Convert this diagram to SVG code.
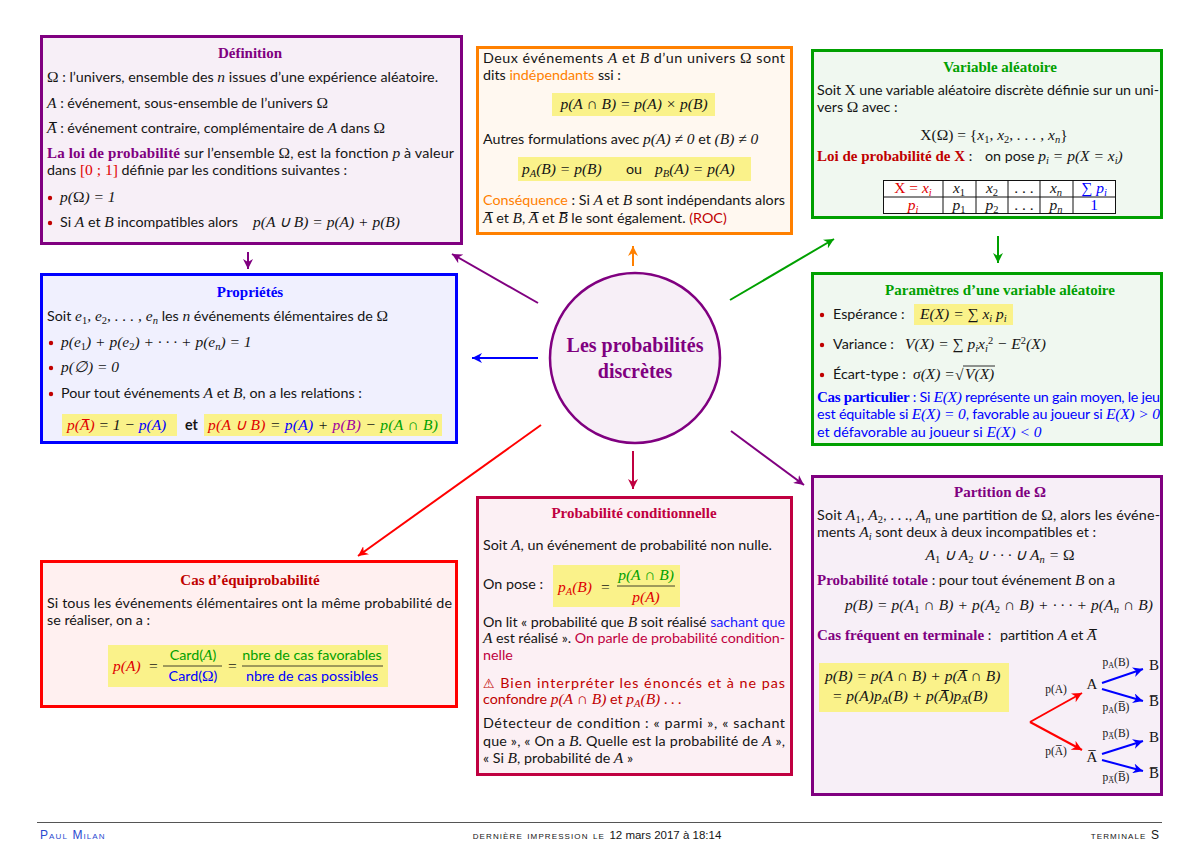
<svg xmlns="http://www.w3.org/2000/svg" width="1200" height="848" viewBox="0 0 1200 848">
<defs>
<style>
text{font-family:Lato,"Open Sans","Liberation Sans",sans-serif;font-size:14.3px;fill:#151515}
.m{font-family:"Liberation Serif",serif;font-style:italic;font-size:15.5px}
.r{font-family:"Liberation Serif",serif;font-style:normal;font-size:15.5px}
.sb{font-family:"Liberation Serif",serif;font-weight:bold;font-size:15px}
.h{font-family:"Liberation Serif",serif;font-weight:bold;font-size:15px;text-anchor:middle}
.c{text-anchor:middle}
.box{stroke-width:3}
.hl{fill:#faf28a}
.dot{fill:#c00000}
.s{font-size:10.5px}
.lab{font-family:"Liberation Serif",serif;font-size:11.5px}
.tn{font-family:"Liberation Serif",serif;font-size:15px}
.ft{font-family:"Liberation Sans",sans-serif;font-size:12px;font-variant:small-caps;letter-spacing:1.1px}
</style>
<marker id="mp" viewBox="0 0 10 10" refX="10" refY="5" markerWidth="5" markerHeight="5" orient="auto"><path d="M0,0 L10,5 L0,10 L3,5 z" fill="#800080"/></marker>
<marker id="mb" viewBox="0 0 10 10" refX="10" refY="5" markerWidth="5" markerHeight="5" orient="auto"><path d="M0,0 L10,5 L0,10 L3,5 z" fill="#0000ff"/></marker>
<marker id="mr" viewBox="0 0 10 10" refX="10" refY="5" markerWidth="5" markerHeight="5" orient="auto"><path d="M0,0 L10,5 L0,10 L3,5 z" fill="#ff0000"/></marker>
<marker id="mo" viewBox="0 0 10 10" refX="10" refY="5" markerWidth="5" markerHeight="5" orient="auto"><path d="M0,0 L10,5 L0,10 L3,5 z" fill="#ff8000"/></marker>
<marker id="mc" viewBox="0 0 10 10" refX="10" refY="5" markerWidth="5" markerHeight="5" orient="auto"><path d="M0,0 L10,5 L0,10 L3,5 z" fill="#c00040"/></marker>
<marker id="mg" viewBox="0 0 10 10" refX="10" refY="5" markerWidth="5" markerHeight="5" orient="auto"><path d="M0,0 L10,5 L0,10 L3,5 z" fill="#00a000"/></marker>
</defs>
<rect width="1200" height="848" fill="#ffffff"/>

<g id="connectors" fill="none" stroke-width="2">
<line x1="538" y1="303" x2="452" y2="254" stroke="#800080" marker-end="url(#mp)"/>
<line x1="538" y1="358" x2="472" y2="358" stroke="#0000ff" marker-end="url(#mb)"/>
<line x1="541" y1="425" x2="358" y2="556" stroke="#ff0000" marker-end="url(#mr)"/>
<line x1="633" y1="266" x2="633" y2="246" stroke="#ff8000" marker-end="url(#mo)"/>
<line x1="633" y1="451" x2="633" y2="489" stroke="#c00040" marker-end="url(#mc)"/>
<line x1="730" y1="300" x2="834" y2="239" stroke="#00a000" marker-end="url(#mg)"/>
<line x1="731" y1="431" x2="804" y2="485" stroke="#800080" marker-end="url(#mp)"/>
<line x1="248" y1="252" x2="248" y2="269" stroke="#800080" marker-end="url(#mp)"/>
<line x1="998" y1="236" x2="998" y2="263" stroke="#00a000" marker-end="url(#mg)"/>
</g>

<g id="centre">
<circle cx="635" cy="358" r="85" fill="#f7eff7" stroke="#800080" stroke-width="2.5"/>
<text class="c" x="635" y="352" style="font-family:'Liberation Serif',serif;font-size:20px;font-weight:bold;fill:#800080">Les probabilités</text>
<text class="c" x="635" y="378" style="font-family:'Liberation Serif',serif;font-size:20px;font-weight:bold;fill:#800080">discrètes</text>
</g>

<g id="definition">
<rect class="box" x="41.5" y="36.5" width="420" height="207" fill="#f7eff7" stroke="#800080"/>
<text class="h" x="250" y="58" style="fill:#800080">Définition</text>
<text x="47" y="82" textLength="391"><tspan class="r">Ω</tspan> : l’univers, ensemble des <tspan class="m">n</tspan> issues d’une expérience aléatoire.</text>
<text x="47" y="108"><tspan class="m">A</tspan> : événement, sous-ensemble de l’univers <tspan class="r">Ω</tspan></text>
<text x="47" y="133"><tspan class="m">A̅</tspan> : événement contraire, complémentaire de <tspan class="m">A</tspan> dans <tspan class="r">Ω</tspan></text>
<text x="47" y="158" textLength="407"><tspan class="sb" style="fill:#800080">La loi de probabilité</tspan> sur l’ensemble <tspan class="r">Ω</tspan>, est la fonction <tspan class="m">p</tspan> à valeur</text>
<text x="47" y="175">dans <tspan class="r" style="fill:#e00000">[0 ; 1]</tspan> définie par les conditions suivantes :</text>
<circle class="dot" cx="50" cy="198" r="2.2"/>
<text x="60" y="202" class="m">p(<tspan class="r">Ω</tspan>) = 1</text>
<circle class="dot" cx="50" cy="223" r="2.2"/>
<text x="60" y="227">Si <tspan class="m">A</tspan> et <tspan class="m">B</tspan> incompatibles alors</text>
<text x="253" y="227" class="m">p(A ∪ B) = p(A) + p(B)</text>
</g>

<g id="independance">
<rect class="box" x="477.5" y="47.5" width="314" height="186" fill="#fff8f0" stroke="#ff8000"/>
<text x="483" y="63" textLength="302">Deux événements <tspan class="m">A</tspan> et <tspan class="m">B</tspan> d’un univers <tspan class="r">Ω</tspan> sont</text>
<text x="483" y="80">dits <tspan style="fill:#ff8000">indépendants</tspan> ssi :</text>
<rect class="hl" x="552" y="93" width="163" height="23"/>
<text class="m c" x="634" y="109">p(A ∩ B) = p(A) × p(B)</text>
<text x="483" y="144">Autres formulations avec <tspan class="m">p(A) ≠ 0</tspan> et <tspan class="m">(B) ≠ 0</tspan></text>
<rect class="hl" x="518" y="157" width="233" height="24"/>
<text class="m" x="522" y="174">p<tspan class="s" baseline-shift="-3">A</tspan>(B) = p(B)</text>
<text x="626" y="174">ou</text>
<text class="m" x="655" y="174">p<tspan class="s" baseline-shift="-3">B</tspan>(A) = p(A)</text>
<text x="483" y="205" textLength="302"><tspan style="fill:#ff8000">Conséquence</tspan> : Si <tspan class="m">A</tspan> et <tspan class="m">B</tspan> sont indépendants alors</text>
<text x="483" y="223"><tspan class="m">A̅</tspan> et <tspan class="m">B</tspan>, <tspan class="m">A̅</tspan> et <tspan class="m">B̅</tspan> le sont également. <tspan style="fill:#c00000">(ROC)</tspan></text>
</g>

<g id="variable">
<rect class="box" x="812.5" y="50.5" width="349" height="167" fill="#f0f8f0" stroke="#00a000"/>
<text class="h" x="1000" y="72" style="fill:#00a000">Variable aléatoire</text>
<text x="817" y="95" textLength="342">Soit <tspan class="r">X</tspan> une variable aléatoire discrète définie sur un uni-</text>
<text x="817" y="112">vers <tspan class="r">Ω</tspan> avec :</text>
<text class="c" x="994" y="140"><tspan class="r">X(Ω) = {</tspan><tspan class="m">x</tspan><tspan class="r s" baseline-shift="-3">1</tspan><tspan class="m">, x</tspan><tspan class="r s" baseline-shift="-3">2</tspan><tspan class="m">, . . . , x</tspan><tspan class="m s" baseline-shift="-3">n</tspan><tspan class="r">}</tspan></text>
<text x="817" y="161"><tspan class="sb" style="fill:#c00000">Loi de probabilité de X</tspan> :</text>
<text x="985" y="161">on pose <tspan class="m">p</tspan><tspan class="m s" baseline-shift="-3">i</tspan><tspan class="m"> = p(X = x</tspan><tspan class="m s" baseline-shift="-3">i</tspan><tspan class="m">)</tspan></text>
<g fill="none" stroke="#111" stroke-width="1">
<rect x="883.5" y="180.5" width="232" height="33" fill="#ffffff"/>
<line x1="883" y1="197" x2="1116" y2="197"/>
<line x1="943" y1="180" x2="943" y2="214"/>
<line x1="976" y1="180" x2="976" y2="214"/>
<line x1="1008" y1="180" x2="1008" y2="214"/>
<line x1="1040" y1="180" x2="1040" y2="214"/>
<line x1="1073" y1="180" x2="1073" y2="214"/>
</g>
<text class="c" x="913" y="193" style="fill:#e00000"><tspan class="r">X = </tspan><tspan class="m">x</tspan><tspan class="m s" baseline-shift="-3">i</tspan></text>
<text class="c m" x="959" y="193">x<tspan class="r s" baseline-shift="-3">1</tspan></text>
<text class="c m" x="992" y="193">x<tspan class="r s" baseline-shift="-3">2</tspan></text>
<text class="c r" x="1024" y="193">. . .</text>
<text class="c m" x="1056" y="193">x<tspan class="s" baseline-shift="-3">n</tspan></text>
<text class="c" x="1094" y="193" style="fill:#0000ff"><tspan class="r">∑ </tspan><tspan class="m">p</tspan><tspan class="m s" baseline-shift="-3">i</tspan></text>
<text class="c m" x="913" y="210" style="fill:#e00000">p<tspan class="s" baseline-shift="-3">i</tspan></text>
<text class="c m" x="959" y="210">p<tspan class="r s" baseline-shift="-3">1</tspan></text>
<text class="c m" x="992" y="210">p<tspan class="r s" baseline-shift="-3">2</tspan></text>
<text class="c r" x="1024" y="210">. . .</text>
<text class="c m" x="1056" y="210">p<tspan class="s" baseline-shift="-3">n</tspan></text>
<text class="c r" x="1094" y="210" style="fill:#0000ff">1</text>
</g>

<g id="parametres">
<rect class="box" x="812.5" y="273.5" width="349" height="171" fill="#f0f8f0" stroke="#00a000"/>
<text class="h" x="1000" y="295" style="fill:#00a000">Paramètres d’une variable aléatoire</text>
<circle class="dot" cx="822" cy="315" r="2.2"/>
<text x="833" y="319">Espérance :</text>
<rect class="hl" x="914" y="304" width="99" height="21"/>
<text x="920" y="319" class="m">E(X) = <tspan class="r">∑</tspan> x<tspan class="s" baseline-shift="-3">i</tspan> p<tspan class="s" baseline-shift="-3">i</tspan></text>
<circle class="dot" cx="822" cy="345" r="2.2"/>
<text x="833" y="349">Variance :</text>
<text x="905" y="349" class="m">V(X) = <tspan class="r">∑</tspan> p<tspan class="s" baseline-shift="-3">i</tspan>x<tspan class="s" baseline-shift="-3">i</tspan><tspan class="r s" baseline-shift="5">2</tspan> − E<tspan class="r s" baseline-shift="5">2</tspan>(X)</text>
<circle class="dot" cx="822" cy="375" r="2.2"/>
<text x="833" y="379">Écart-type :</text>
<text x="913" y="379" class="m">σ(X) =</text>
<text x="955" y="380" class="r">√</text>
<text x="965" y="379" class="m">V(X)</text>
<line x1="963" y1="366" x2="995" y2="366" stroke="#151515" stroke-width="0.9"/>
<text x="817" y="402" textLength="343" style="fill:#0000ff"><tspan class="sb">Cas particulier</tspan> : Si <tspan class="m">E(X)</tspan> représente un gain moyen, le jeu</text>
<text x="817" y="419" textLength="343" style="fill:#0000ff">est équitable si <tspan class="m">E(X) = 0</tspan>, favorable au joueur si <tspan class="m">E(X) &gt; 0</tspan></text>
<text x="817" y="437" style="fill:#0000ff">et défavorable au joueur si <tspan class="m">E(X) &lt; 0</tspan></text>
</g>

<g id="proprietes">
<rect class="box" x="41.5" y="274.5" width="415" height="168" fill="#f0f0fe" stroke="#0000ff"/>
<text class="h" x="250" y="297" style="fill:#0000ff">Propriétés</text>
<text x="47" y="321">Soit <tspan class="m">e</tspan><tspan class="r s" baseline-shift="-3">1</tspan><tspan class="m">, e</tspan><tspan class="r s" baseline-shift="-3">2</tspan><tspan class="m">, . . . , e</tspan><tspan class="m s" baseline-shift="-3">n</tspan> les <tspan class="m">n</tspan> événements élémentaires de <tspan class="r">Ω</tspan></text>
<circle class="dot" cx="51" cy="343" r="2.2"/>
<text x="61" y="347" class="m">p(e<tspan class="r s" baseline-shift="-3">1</tspan>) + p(e<tspan class="r s" baseline-shift="-3">2</tspan>) + · · · + p(e<tspan class="s" baseline-shift="-3">n</tspan>) = 1</text>
<circle class="dot" cx="51" cy="368" r="2.2"/>
<text x="61" y="372" class="m">p(∅) = 0</text>
<circle class="dot" cx="51" cy="394" r="2.2"/>
<text x="61" y="398">Pour tout événements <tspan class="m">A</tspan> et <tspan class="m">B</tspan>, on a les relations :</text>
<rect class="hl" x="62" y="414" width="115" height="22"/>
<rect class="hl" x="204" y="414" width="238" height="22"/>
<text x="67" y="430" class="m"><tspan style="fill:#e00000">p(A̅)</tspan> = 1 − <tspan style="fill:#0000ff">p(A)</tspan></text>
<text x="185" y="430" style="font-weight:bold">et</text>
<text x="208" y="430" class="m" textLength="230"><tspan style="fill:#e00000">p(A ∪ B)</tspan> = <tspan style="fill:#0000ff">p(A)</tspan> + <tspan style="fill:#a000a0">p(B)</tspan> − <tspan style="fill:#00a000">p(A ∩ B)</tspan></text>
</g>

<g id="equiprobabilite">
<rect class="box" x="41.5" y="561.5" width="415" height="145" fill="#fff0f0" stroke="#ff0000"/>
<text class="h" x="250" y="585" style="fill:#c00000">Cas d’équiprobabilité</text>
<text x="47" y="608" textLength="405">Si tous les événements élémentaires ont la même probabilité de</text>
<text x="47" y="625">se réaliser, on a :</text>
<rect class="hl" x="108" y="645" width="280" height="42"/>
<text x="113" y="671" class="m" style="fill:#e00000">p(A)</text>
<text x="149" y="671" class="r">=</text>
<line x1="163" y1="666" x2="222" y2="666" stroke="#151515" stroke-width="0.8"/>
<text class="c" x="193" y="660" style="fill:#00a000">Card(<tspan class="m">A</tspan>)</text>
<text class="c" x="193" y="681" style="fill:#0000ff">Card(<tspan class="r">Ω</tspan>)</text>
<text x="228" y="671" class="r">=</text>
<line x1="242" y1="666" x2="383" y2="666" stroke="#151515" stroke-width="0.8"/>
<text class="c" x="312" y="660" style="fill:#00a000">nbre de cas favorables</text>
<text class="c" x="312" y="681" style="fill:#0000ff">nbre de cas possibles</text>
</g>

<g id="conditionnelle">
<rect class="box" x="477.5" y="497.5" width="314" height="277" fill="#fcf0f4" stroke="#c00040"/>
<text class="h" x="634" y="518" style="fill:#c00040">Probabilité conditionnelle</text>
<text x="483" y="550">Soit <tspan class="m">A</tspan>, un événement de probabilité non nulle.</text>
<text x="483" y="589">On pose :</text>
<rect class="hl" x="553" y="565" width="127" height="42"/>
<text x="558" y="592" class="m" style="fill:#e00000">p<tspan class="s" baseline-shift="-3">A</tspan>(B)</text>
<text x="601" y="592" class="r">=</text>
<line x1="617" y1="586" x2="675" y2="586" stroke="#151515" stroke-width="0.8"/>
<text class="c m" x="646" y="580" style="fill:#00a000">p(A ∩ B)</text>
<text class="c m" x="646" y="602" style="fill:#e00000">p(A)</text>
<text x="483" y="627" textLength="302">On lit « probabilité que <tspan class="m">B</tspan> soit réalisé <tspan style="fill:#1a1aff">sachant que</tspan></text>
<text x="483" y="643" textLength="302"><tspan class="m">A</tspan> est réalisé ». <tspan style="fill:#c00040">On parle de probabilité condition-</tspan></text>
<text x="483" y="660" style="fill:#c00040">nelle</text>
<text x="483" y="688" textLength="302" style="fill:#c00000"><tspan style="font-family:'DejaVu Sans',sans-serif;font-size:13px">⚠</tspan> Bien interpréter les énoncés et à ne pas</text>
<text x="483" y="704" style="fill:#c00000">confondre <tspan class="m">p(A ∩ B)</tspan> et <tspan class="m">p</tspan><tspan class="m s" baseline-shift="-3">A</tspan><tspan class="m">(B)</tspan> . . .</text>
<text x="483" y="728" textLength="302">Détecteur de condition : « parmi », « sachant</text>
<text x="483" y="746" textLength="302">que », « On a <tspan class="m">B</tspan>. Quelle est la probabilité de <tspan class="m">A</tspan> »,</text>
<text x="483" y="763">« Si <tspan class="m">B</tspan>, probabilité de <tspan class="m">A</tspan> »</text>
</g>

<g id="partition">
<rect class="box" x="812.5" y="476.5" width="349" height="318" fill="#f7eff7" stroke="#800080"/>
<text class="h" x="1000" y="497" style="fill:#800080">Partition de Ω</text>
<text x="817" y="520" textLength="343">Soit <tspan class="m">A</tspan><tspan class="r s" baseline-shift="-3">1</tspan>, <tspan class="m">A</tspan><tspan class="r s" baseline-shift="-3">2</tspan>, . . ., <tspan class="m">A</tspan><tspan class="m s" baseline-shift="-3">n</tspan> une partition de <tspan class="r">Ω</tspan>, alors les événe-</text>
<text x="817" y="537">ments <tspan class="m">A</tspan><tspan class="m s" baseline-shift="-3">i</tspan> sont deux à deux incompatibles et :</text>
<text class="c m" x="1000" y="560">A<tspan class="r s" baseline-shift="-3">1</tspan> ∪ A<tspan class="r s" baseline-shift="-3">2</tspan> ∪ · · · ∪ A<tspan class="s" baseline-shift="-3">n</tspan> = <tspan class="r">Ω</tspan></text>
<text x="817" y="585"><tspan class="sb" style="fill:#800080">Probabilité totale</tspan> : pour tout événement <tspan class="m">B</tspan> on a</text>
<text x="845" y="610" class="m" textLength="308">p(B) = p(A<tspan class="r s" baseline-shift="-3">1</tspan> ∩ B) + p(A<tspan class="r s" baseline-shift="-3">2</tspan> ∩ B) + · · · + p(A<tspan class="s" baseline-shift="-3">n</tspan> ∩ B)</text>
<text x="817" y="640"><tspan class="sb" style="fill:#800080">Cas fréquent en terminale</tspan> :</text>
<text x="1000" y="640">partition <tspan class="m">A</tspan> et <tspan class="m">A̅</tspan></text>
<rect class="hl" x="819" y="663" width="190" height="49"/>
<text x="825" y="681" class="m">p(B) = p(A ∩ B) + p(A̅ ∩ B)</text>
<text x="832" y="701" class="m">= p(A)p<tspan class="s" baseline-shift="-3">A</tspan>(B) + p(A̅)p<tspan class="s" baseline-shift="-3">A̅</tspan>(B)</text>
<g fill="none" stroke-width="2">
<line x1="1030" y1="722" x2="1082" y2="693" stroke="#ff0000" marker-end="url(#mr)"/>
<line x1="1030" y1="722" x2="1082" y2="750" stroke="#ff0000" marker-end="url(#mr)"/>
<line x1="1102" y1="683" x2="1143" y2="669" stroke="#0000ff" marker-end="url(#mb)"/>
<line x1="1102" y1="689" x2="1143" y2="701" stroke="#0000ff" marker-end="url(#mb)"/>
<line x1="1102" y1="754" x2="1143" y2="741" stroke="#0000ff" marker-end="url(#mb)"/>
<line x1="1102" y1="760" x2="1143" y2="771" stroke="#0000ff" marker-end="url(#mb)"/>
</g>
<text class="lab c" x="1056" y="693">p(A)</text>
<text class="lab c" x="1056" y="755">p(A̅)</text>
<text class="tn c" x="1092" y="689">A</text>
<text class="tn c" x="1092" y="762">A̅</text>
<text class="lab c" x="1116" y="666">p<tspan baseline-shift="-2" font-size="8">A</tspan>(B)</text>
<text class="lab c" x="1116" y="711">p<tspan baseline-shift="-2" font-size="8">A</tspan>(B̅)</text>
<text class="lab c" x="1116" y="737">p<tspan baseline-shift="-2" font-size="8">A̅</tspan>(B)</text>
<text class="lab c" x="1116" y="781">p<tspan baseline-shift="-2" font-size="8">A̅</tspan>(B̅)</text>
<text class="tn c" x="1154" y="670">B</text>
<text class="tn c" x="1154" y="706">B̅</text>
<text class="tn c" x="1154" y="742">B</text>
<text class="tn c" x="1154" y="778">B̅</text>
</g>

<g id="footer">
<line x1="37" y1="822.5" x2="1162" y2="822.5" stroke="#555" stroke-width="1"/>
<text class="ft" x="40" y="839" style="fill:#2a4ad0">Paul Milan</text>
<text class="ft c" x="597" y="839">dernière impression le <tspan style="font-variant:normal;letter-spacing:0;font-size:11.5px">12 mars 2017 à 18:14</tspan></text>
<text class="ft" x="1160" y="839" style="text-anchor:end">terminale S</text>
</g>
</svg>
